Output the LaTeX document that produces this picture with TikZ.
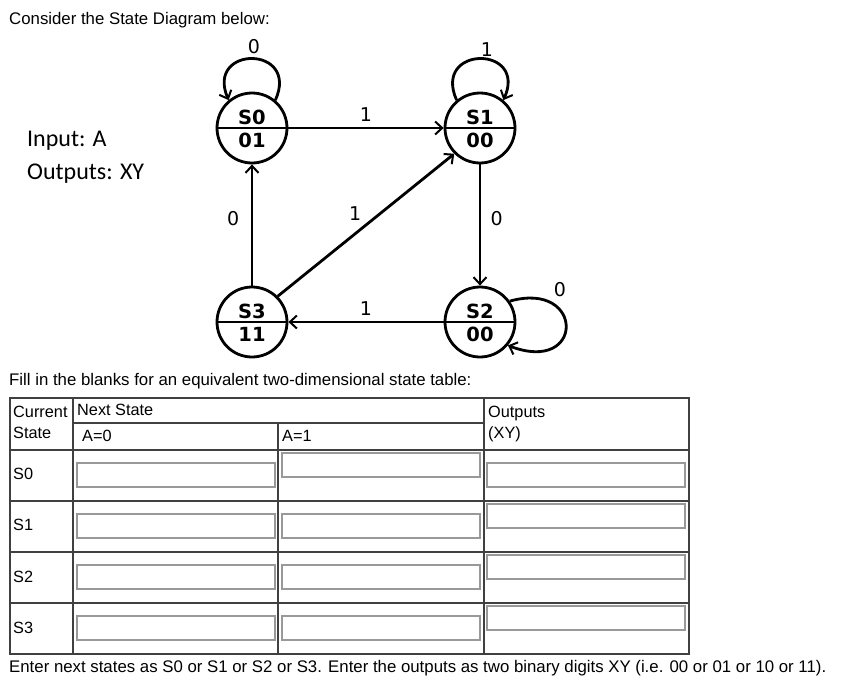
\documentclass[tikz,border=0pt]{standalone}
\usepackage{fontspec}
\setmainfont{Liberation Sans}
\newfontfamily\vfont{DejaVu Sans}
\newfontfamily\cfont{Carlito}
\usetikzlibrary{arrows.meta}
\begin{document}
\begin{tikzpicture}[x=1pt,y=-1pt,
  st/.style={circle,draw,line width=2.8pt,minimum size=70pt,inner sep=0pt},
  edge/.style={line width=2.8pt,-{Straight Barb[length=7pt,width=13pt,line width=2pt]}},
  elab/.style={font=\vfont\fontsize{19}{19}\selectfont},
  txt/.style={anchor=west,inner sep=0pt,font=\fontsize{16.8}{18}\selectfont},
  ttxt/.style={anchor=west,inner sep=0pt,font=\fontsize{16.3}{18}\selectfont},
  cell/.style={draw=black!75,line width=2pt},
  inbox/.style={draw=black!40,line width=1.2pt}]
\useasboundingbox (0,0) rectangle (844,699);
\node[txt] (t1) at (9,20) {Consider the State Diagram below:};
\node[anchor=west,inner sep=0pt,font=\cfont\fontsize{24}{24}\selectfont] (in) at (27,141) {Input: A};
\node[anchor=west,inner sep=0pt,font=\cfont\fontsize{24}{24}\selectfont] (out) at (27,174) {Outputs: XY};
% states
\foreach \n/\x/\y/\a/\b in {s0/252/128/S0/01, s1/480/128/S1/00, s2/480/322/S2/00, s3/252/322/S3/11}{
  \node[st] (\n) at (\x,\y) {};
  \draw[line width=1.4pt] (\n.west) -- (\n.east);
  \node[font=\vfont\bfseries\fontsize{19.5}{19.5}\selectfont,inner sep=0pt] (\n a) at (\x,\y-11) {\a};
  \node[font=\vfont\bfseries\fontsize{19.5}{19.5}\selectfont,inner sep=0pt] (\n b) at (\x,\y+12) {\b};
}
\draw[edge] (s0.east) -- node[elab,above=2pt]{1} (s1.west);
\draw[edge] (s1.south) -- node[elab,right=6pt,pos=0.45]{0} (s2.north);
\draw[edge] (s2.west) -- node[elab,above=2pt]{1} (s3.east);
\draw[edge] (s3.north) -- node[elab,left=8pt,pos=0.55]{0} (s0.south);
\draw[edge] (s3.north east) -- node[elab,above left=0pt,pos=0.5]{1} (s1.south west);
\draw[edge] (s0.50) .. controls (300,45) and (205,45) .. (s0.130);
\node[elab] (l0) at (254,47) {0};
\draw[edge] (s1.130) .. controls (432,45) and (528,45) .. (s1.50);
\node[elab] (l1) at (487,50) {1};
\draw[edge] (s2.35) .. controls (585,280) and (585,375) .. (s2.-40);
\node[elab] (l2) at (560,290) {0};
% table
\node[txt] (t2) at (9,381) {Fill in the blanks for an equivalent two-dimensional state table:};
\draw[cell] (10,398) rectangle (689,654);
\draw[cell] (73,398) -- (73,654);
\draw[cell] (278,423) -- (278,654);
\draw[cell] (484,398) -- (484,654);
\draw[cell] (73,423) -- (484,423);
\foreach \y in {450,501,552,603} \draw[cell] (10,\y) -- (689,\y);
\node[ttxt] (h1) at (13,412) {Current};
\node[ttxt] (h2) at (13,433) {State};
\node[ttxt] (h3) at (77,410) {Next State};
\node[ttxt] (h4) at (82,436) {A=0};
\node[ttxt] (h5) at (282,436) {A=1};
\node[ttxt] (h6) at (488,413) {Outputs};
\node[ttxt] (h7) at (488,434) {(XY)};
\foreach \s/\y in {S0/474,S1/525,S2/577,S3/628}
  \node[ttxt] (r\s) at (13,\y) {\s};
\foreach \a/\b/\c/\r in {463/453/463/0, 514/514/504/1, 565/565/555/2, 616/616/606/3}{
  \draw[inbox] (77,\a) rectangle (275,\a+24);
  \draw[inbox] (282,\b) rectangle (480,\b+24);
  \draw[inbox] (487,\c) rectangle (685,\c+24);
}
\node[txt] (t3) at (9,668) {Enter next states as S0 or S1 or S2 or S3. Enter the outputs as two binary digits XY (i.e. 00 or 01 or 10 or 11).};
\end{tikzpicture}
\end{document}
